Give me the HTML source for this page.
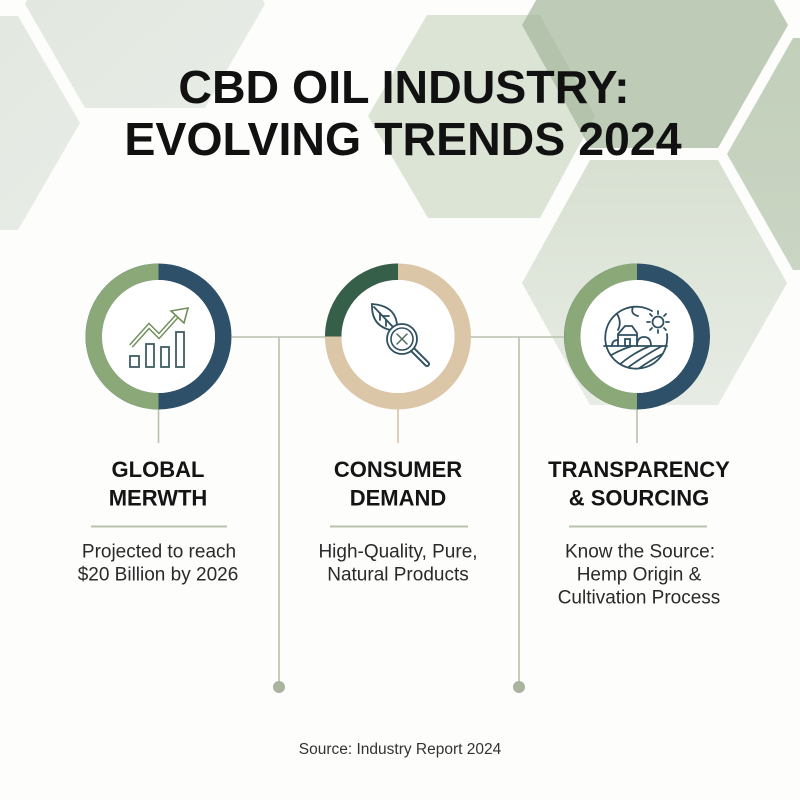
<!DOCTYPE html>
<html>
<head>
<meta charset="utf-8">
<style>
  html, body { margin: 0; padding: 0; background: #fdfdfc; }
  svg { display: block; }
  text { font-family: "Liberation Sans", Arial, sans-serif; }
</style>
</head>
<body>
<svg width="800" height="800" viewBox="0 0 800 800" xmlns="http://www.w3.org/2000/svg">
  <defs>
    <linearGradient id="gF" x1="0" y1="0" x2="0" y2="1">
      <stop offset="0" stop-color="#d8e0d2"/>
      <stop offset="1" stop-color="#e7ece4"/>
    </linearGradient>
    <linearGradient id="gB" x1="0" y1="0" x2="1" y2="1">
      <stop offset="0" stop-color="#e0e6de"/>
      <stop offset="1" stop-color="#e8ece6"/>
    </linearGradient>
    <linearGradient id="gE" x1="0" y1="0" x2="0" y2="1">
      <stop offset="0" stop-color="#c2cfba"/>
      <stop offset="1" stop-color="#cad5c3"/>
    </linearGradient>
    <clipPath id="globe"><circle cx="636" cy="338" r="31"/></clipPath>
  </defs>

  <rect width="800" height="800" fill="#fdfdfc"/>

  <!-- Hexagons -->
  <polygon points="-168,123 -106,16 18,16 80,123 18,230 -106,230" fill="url(#gB)"/>
  <polygon points="25,4 85,-100 205,-100 265,4 205,108 85,108" fill="url(#gB)"/>
  <polygon points="368,116 427,15 540,15 595,116 540,218 428,218" fill="#dce4d6"/>
  <polygon points="522,25 590,-95 720,-95 788,25 718,148 590,148" fill="#a3b598" fill-opacity="0.7"/>
  <polygon points="727,154 793,38 925,38 991,154 925,270 793,270" fill="url(#gE)"/>
  <polygon points="522,283 590,160 718,160 787,283 718,405 590,405" fill="url(#gF)"/>

  <!-- Title -->
  <text x="404" y="103" font-size="46.5" font-weight="bold" fill="#111" text-anchor="middle">CBD OIL INDUSTRY:</text>
  <text x="403" y="155" font-size="46.5" font-weight="bold" fill="#111" text-anchor="middle">EVOLVING TRENDS 2024</text>

  <!-- Connector lines -->
  <g stroke="#b9c1af" stroke-width="1.6" fill="none">
    <line x1="232" y1="337" x2="326" y2="337"/>
    <line x1="470" y1="337" x2="564" y2="337"/>
    <line x1="279" y1="337" x2="279" y2="684"/>
    <line x1="519" y1="337" x2="519" y2="684"/>
    <line x1="158.5" y1="409" x2="158.5" y2="443"/>
    <line x1="637" y1="409" x2="637" y2="443"/>
  </g>
  <line x1="398" y1="409" x2="398" y2="443" stroke="#d8c3a5" stroke-width="1.6"/>
  <circle cx="279" cy="687" r="6" fill="#a9b3a0"/>
  <circle cx="519" cy="687" r="6" fill="#a9b3a0"/>

  <!-- Circle 1 -->
  <circle cx="158.5" cy="336.5" r="64.75" fill="none" stroke="#2e5068" stroke-width="16.5"/>
  <path d="M158.5,271.75 A64.75,64.75 0 0 0 158.5,401.25" fill="none" stroke="#8aa878" stroke-width="16.5"/>
  <circle cx="158.5" cy="336.5" r="56.5" fill="#ffffff"/>

  <!-- Circle 2 -->
  <circle cx="398" cy="336.5" r="64.75" fill="none" stroke="#dcc6a8" stroke-width="16.5"/>
  <path d="M333.25,336.5 A64.75,64.75 0 0 1 398,271.75" fill="none" stroke="#365f4a" stroke-width="16.5"/>
  <circle cx="398" cy="336.5" r="56.5" fill="#ffffff"/>

  <!-- Circle 3 -->
  <circle cx="637" cy="336.5" r="64.75" fill="none" stroke="#2e5068" stroke-width="16.5"/>
  <path d="M637,271.75 A64.75,64.75 0 0 0 637,401.25" fill="none" stroke="#8aa878" stroke-width="16.5"/>
  <circle cx="637" cy="336.5" r="56.5" fill="#ffffff"/>

  <!-- Icon 1: chart -->
  <g fill="none" stroke="#3f5d63" stroke-width="1.8">
    <rect x="130" y="356" width="9" height="11"/>
    <rect x="146" y="344" width="8" height="23"/>
    <rect x="161" y="347" width="8" height="20"/>
    <rect x="176" y="332" width="8" height="35"/>
  </g>
  <polyline points="131,346 149,326 159,336 178,315" fill="none" stroke="#71905a" stroke-width="5" stroke-linejoin="miter"/>
  <polyline points="131,346 149,326 159,336 178,315" fill="none" stroke="#ffffff" stroke-width="2" stroke-linejoin="miter"/>
  <polygon points="188,308 171,311 184,323" fill="#ffffff" stroke="#71905a" stroke-width="1.6" stroke-linejoin="miter"/>

  <!-- Icon 2: leaf + magnifier -->
  <g fill="none" stroke="#2f5060" stroke-width="1.8" stroke-linecap="round">
    <path d="M372,304 Q399,306 397,331 Q371,329 372,304 Z"/>
    <line x1="374" y1="307" x2="393" y2="327"/>
    <line x1="380" y1="313" x2="380" y2="320"/>
    <line x1="386" y1="320" x2="386" y2="326"/>
    <line x1="383" y1="316" x2="389" y2="316"/>
  </g>
  <line x1="413" y1="350" x2="427" y2="364" stroke="#2f5060" stroke-width="6" stroke-linecap="round"/>
  <line x1="413" y1="350" x2="427" y2="364" stroke="#ffffff" stroke-width="2.2" stroke-linecap="round"/>
  <circle cx="402" cy="339" r="15" fill="#ffffff" stroke="#2f5060" stroke-width="1.8"/>
  <circle cx="402" cy="339" r="11" fill="none" stroke="#2f5060" stroke-width="1.6"/>
  <g stroke="#4d6e5c" stroke-width="1.5" stroke-linecap="round">
    <line x1="397" y1="334" x2="407" y2="344"/>
    <line x1="407" y1="334" x2="397" y2="344"/>
  </g>

  <!-- Icon 3: globe + farm + sun -->
  <g fill="none" stroke="#2f5060" stroke-width="1.8" stroke-linecap="round">
    <path d="M652,311 A31,31 0 1 0 667,334"/>
    <path d="M617,314 Q622,322 618,330"/>
    <path d="M633,307 Q630,314 638,316"/>
    <circle cx="658" cy="322" r="5.5"/>
    <line x1="658" y1="311" x2="658" y2="314"/>
    <line x1="658" y1="330" x2="658" y2="333"/>
    <line x1="647" y1="322" x2="650" y2="322"/>
    <line x1="666" y1="322" x2="669" y2="322"/>
    <line x1="650" y1="314" x2="652" y2="316"/>
    <line x1="664" y1="328" x2="666" y2="330"/>
    <line x1="666" y1="314" x2="664" y2="316"/>
    <line x1="650" y1="330" x2="652" y2="328"/>
    <path d="M618,346 L618,334 L625,326 L632,326 L637,333 L637,346"/>
    <line x1="618" y1="335" x2="637" y2="335"/>
    <rect x="625" y="339" width="5" height="7"/>
    <path d="M637,346 Q637,337 644,337 Q651,337 651,346"/>
    <path d="M612,346 Q612,340 618,340"/>
    <line x1="604" y1="346" x2="667" y2="346"/>
    <g clip-path="url(#globe)">
      <path d="M612,372 Q628,355 650,346"/>
      <path d="M622,372 Q640,358 662,346"/>
      <path d="M634,372 Q650,360 670,350"/>
      <path d="M604,360 Q614,352 632,346"/>
    </g>
  </g>

  <!-- Headings -->
  <g font-size="22" font-weight="bold" fill="#141414" text-anchor="middle">
    <text x="158" y="477">GLOBAL</text>
    <text x="158" y="505.5">MERWTH</text>
    <text x="398" y="477">CONSUMER</text>
    <text x="398" y="505.5">DEMAND</text>
    <text x="639" y="477">TRANSPARENCY</text>
    <text x="639" y="505.5">&amp; SOURCING</text>
  </g>

  <!-- Separators -->
  <g stroke="#b7c4ab" stroke-width="2">
    <line x1="91" y1="526.5" x2="227" y2="526.5"/>
    <line x1="330" y1="526.5" x2="468" y2="526.5"/>
    <line x1="569" y1="526.5" x2="707" y2="526.5"/>
  </g>

  <!-- Body text -->
  <g font-size="19" fill="#2a2a2a" text-anchor="middle">
    <text x="159" y="557.5">Projected to reach</text>
    <text x="158" y="580.5">$20 Billion by 2026</text>
    <text x="398" y="557.5">High-Quality, Pure,</text>
    <text x="398" y="580.5">Natural Products</text>
    <text x="640" y="557.5">Know the Source:</text>
    <text x="639" y="580.5">Hemp Origin &amp;</text>
    <text x="639" y="603.5">Cultivation Process</text>
  </g>

  <!-- Source -->
  <text x="400" y="754" font-size="15.5" fill="#333" text-anchor="middle">Source: Industry Report 2024</text>
</svg>
</body>
</html>
